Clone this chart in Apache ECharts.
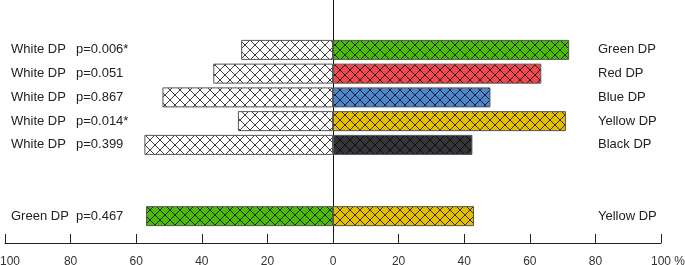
<!DOCTYPE html>
<html>
<head>
<meta charset="utf-8">
<script src="https://cdn.jsdelivr.net/npm/echarts@6/dist/echarts.min.js"></script>
<style>
html, body { margin: 0; padding: 0; background: #fff; }
#chart { width: 685px; height: 265px; }
</style>
</head>
<body>
<div id="chart"></div>
<script>
// rows top to bottom, two blank rows before the last comparison
const rows = ['0', '1', '2', '3', '4', '5', '6', '7']
const leftNames = ['White DP', 'White DP', 'White DP', 'White DP', 'White DP', '', '', 'Green DP']
const pLabels = ['p=0.006*', 'p=0.051', 'p=0.867', 'p=0.014*', 'p=0.399', '', '', 'p=0.467']
const rightNames = ['Green DP', 'Red DP', 'Blue DP', 'Yellow DP', 'Black DP', '', '', 'Yellow DP']
const leftValues = [28, 36.5, 52, 29, 57.5, null, null, 57]
const rightValues = [72, 63.5, 48, 71, 42.5, null, null, 43]
const leftColors = ['#ffffff', '#ffffff', '#ffffff', '#ffffff', '#ffffff', null, null, '#4cbb0c']
const rightColors = ['#4cbb0c', '#ee4a52', '#4d86cc', '#e5c000', '#35353a', null, null, '#e5c000']
const xTicks = [-100, 100, 20]

// crosshatch pattern (dotted diagonal lines)
function hatch(bg) {
    const c = document.createElement('canvas')
    c.width = 10; c.height = 10
    const ctx = c.getContext('2d')
    ctx.fillStyle = bg
    ctx.fillRect(0, 0, 10, 10)
    ctx.fillStyle = bg === '#ffffff' ? 'rgba(30,30,30,0.85)' : 'rgba(0,0,0,0.75)'
    for (let i = 0; i < 10; i++) {
        ctx.fillRect(i, i, 1, 1)
        ctx.fillRect(9 - i, i, 1, 1)
    }
    return { image: c, repeat: 'repeat' }
}

function items(values, colors, sign) {
    return values.map((v, i) => {
        if (v == null) return null
        return { value: sign * v, itemStyle: { color: hatch(colors[i]) } }
    })
}

const chart = echarts.init(document.getElementById('chart'), null, { renderer: 'canvas' })
const font = 'Liberation Sans, Arial, sans-serif'
const option = {
    animation: false,
    grid: [
        { left: 5, right: 24, top: 38, height: 190, outerBoundsMode: 'none', containLabel: false },
        { left: 5, right: 24, top: 0, bottom: 22, outerBoundsMode: 'none', containLabel: false }
    ],
    xAxis: [
        { gridIndex: 0, type: 'value', min: xTicks[0], max: xTicks[1], interval: xTicks[2], show: false },
        {
            gridIndex: 1, type: 'value', min: xTicks[0], max: xTicks[1], interval: xTicks[2],
            splitLine: { show: false },
            axisLine: { show: true, onZero: false, lineStyle: { color: '#222', width: 1 } },
            axisTick: { show: true, inside: true, length: 9, lineStyle: { color: '#222' } },
            axisLabel: {
                margin: 13, color: '#333', fontSize: 12, fontFamily: font,
                formatter: v => {
                    if (v === -100) return '{lo|100}'
                    if (v === 100) return '{hi|100 %}'
                    return Math.abs(v) + ''
                },
                rich: {
                    lo: { padding: [0, 0, 0, 10], fontSize: 12, fontFamily: font, color: '#333' },
                    hi: { padding: [0, 0, 0, 14], fontSize: 12, fontFamily: font, color: '#333' }
                }
            }
        }
    ],
    yAxis: [
        {
            gridIndex: 0, type: 'category', data: rows, inverse: true, position: 'left',
            axisLine: { show: false }, axisTick: { show: false },
            axisLabel: {
                inside: true, margin: 6, align: 'left', color: '#222', fontSize: 13, fontFamily: font,
                formatter: (v, i) => leftNames[i] ? '{a|' + leftNames[i] + '}{b|' + pLabels[i] + '}' : '',
                rich: {
                    a: { width: 65, fontSize: 13, fontFamily: font, color: '#222' },
                    b: { fontSize: 13, fontFamily: font, color: '#222' }
                }
            }
        },
        {
            gridIndex: 0, type: 'category', data: rows, inverse: true, position: 'right',
            axisLine: { show: false }, axisTick: { show: false },
            axisLabel: {
                inside: true, margin: 63, align: 'left', color: '#222', fontSize: 13, fontFamily: font,
                formatter: (v, i) => rightNames[i]
            }
        },
        {
            gridIndex: 1, type: 'category', data: [''],
            axisLine: { show: true, onZero: true, lineStyle: { color: '#111', width: 1 } },
            axisTick: { show: false }, axisLabel: { show: false }
        }
    ],
    series: [
        {
            type: 'bar', xAxisIndex: 0, yAxisIndex: 0, barWidth: 20, barGap: '-100%',
            itemStyle: { borderColor: '#555', borderWidth: 1 },
            data: items(leftValues, leftColors, -1)
        },
        {
            type: 'bar', xAxisIndex: 0, yAxisIndex: 0, barWidth: 20, barGap: '-100%',
            itemStyle: { borderColor: '#555', borderWidth: 1 },
            data: items(rightValues, rightColors, 1)
        }
    ]
}
chart.setOption(option)
</script>
</body>
</html>
